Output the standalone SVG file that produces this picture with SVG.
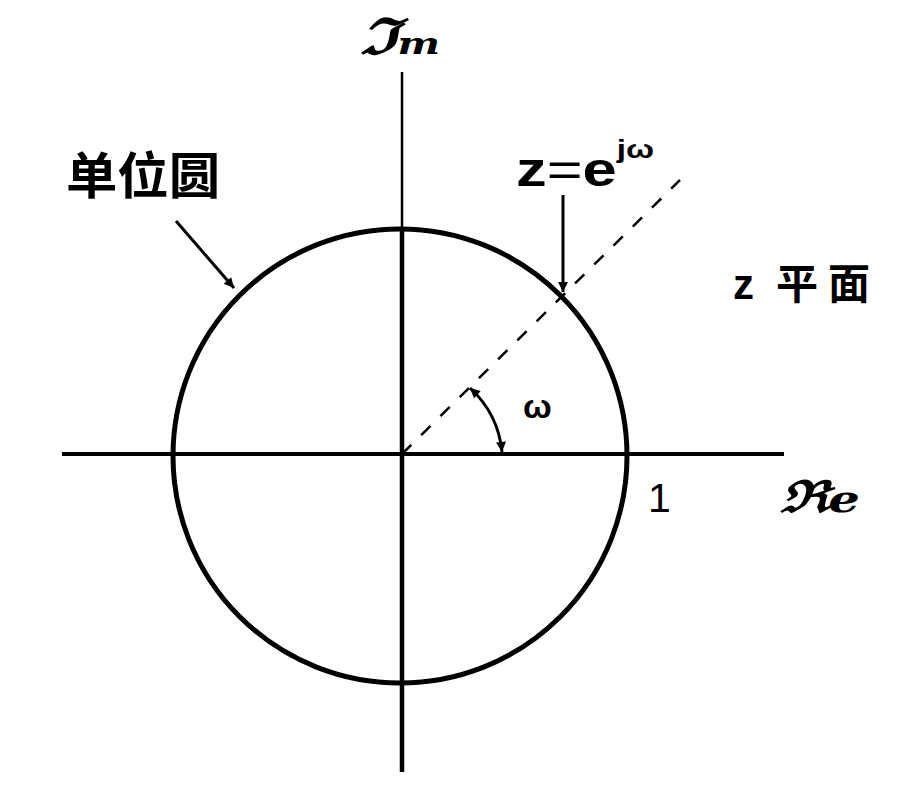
<svg xmlns="http://www.w3.org/2000/svg" width="906" height="802" viewBox="0 0 906 802">
<defs>
<style>
.ln{stroke:#000;fill:none}
.t{fill:#000;font-family:"Liberation Sans",Arial,sans-serif}
.cjk{fill:#000;font-family:"Noto Sans CJK SC","Noto Sans CJK JP",sans-serif;font-weight:bold}
.sym{fill:#000;font-family:"DejaVu Serif","Liberation Serif",serif;font-style:italic;font-weight:bold}
</style>
<marker id="ahl" viewBox="0 0 10 10" refX="10" refY="5" markerWidth="20" markerHeight="10" orient="auto" markerUnits="userSpaceOnUse">
<path d="M0,0 L10,5 L0,10 Z" fill="#000"/>
</marker>
<marker id="ahs" viewBox="0 0 10 10" refX="10" refY="5" markerWidth="14" markerHeight="10" orient="auto-start-reverse" markerUnits="userSpaceOnUse">
<path d="M0,0 L10,5 L0,10 Z" fill="#000"/>
</marker>
</defs>
<rect width="906" height="802" fill="#fff"/>
<g id="axes">
<line class="ln" x1="62" y1="454" x2="784" y2="454" stroke-width="4"/>
<line class="ln" x1="402" y1="72" x2="402" y2="230" stroke-width="2.5"/>
<line class="ln" x1="402" y1="230" x2="402" y2="772" stroke-width="4.5"/>
</g>
<g id="unit-circle">
<circle class="ln" cx="400" cy="456" r="227" stroke-width="5"/>
</g>
<g id="connectors">
<line class="ln" x1="402" y1="454" x2="680" y2="180" stroke-width="2.5" stroke-dasharray="13,14"/>
<line class="ln" x1="176" y1="221" x2="234" y2="288" stroke-width="3" marker-end="url(#ahl)"/>
<line class="ln" x1="563" y1="195" x2="563" y2="292" stroke-width="3" marker-end="url(#ahl)"/>
<path class="ln" d="M470,388 A100,100 0 0 1 502,452" stroke-width="3" marker-start="url(#ahs)" marker-end="url(#ahs)"/>
</g>
<g id="labels">
<text class="sym" x="360" y="54" font-size="50" textLength="80" lengthAdjust="spacingAndGlyphs">ℑ<tspan font-size="30">m</tspan></text>
<text class="cjk" x="66" y="194" font-size="50" textLength="154" lengthAdjust="spacingAndGlyphs">单位圆</text>
<text class="t" x="516" y="186" font-size="48" font-weight="bold" textLength="138" lengthAdjust="spacingAndGlyphs">z<tspan font-weight="normal">=</tspan>e<tspan font-size="26" dy="-28">jω</tspan></text>
<text class="cjk" x="733" y="299" font-size="42"><tspan font-family="'Liberation Sans',sans-serif" font-weight="bold" font-size="42">z</tspan><tspan x="776">平</tspan><tspan x="828">面</tspan></text>
<text class="t" x="523" y="418" font-size="34" font-weight="bold">ω</text>
<text class="t" x="648" y="512" font-size="41">1</text>
<text class="sym" x="780" y="512" font-size="44" textLength="80" lengthAdjust="spacingAndGlyphs">ℜ<tspan font-size="38">e</tspan></text>
</g>
</svg>
